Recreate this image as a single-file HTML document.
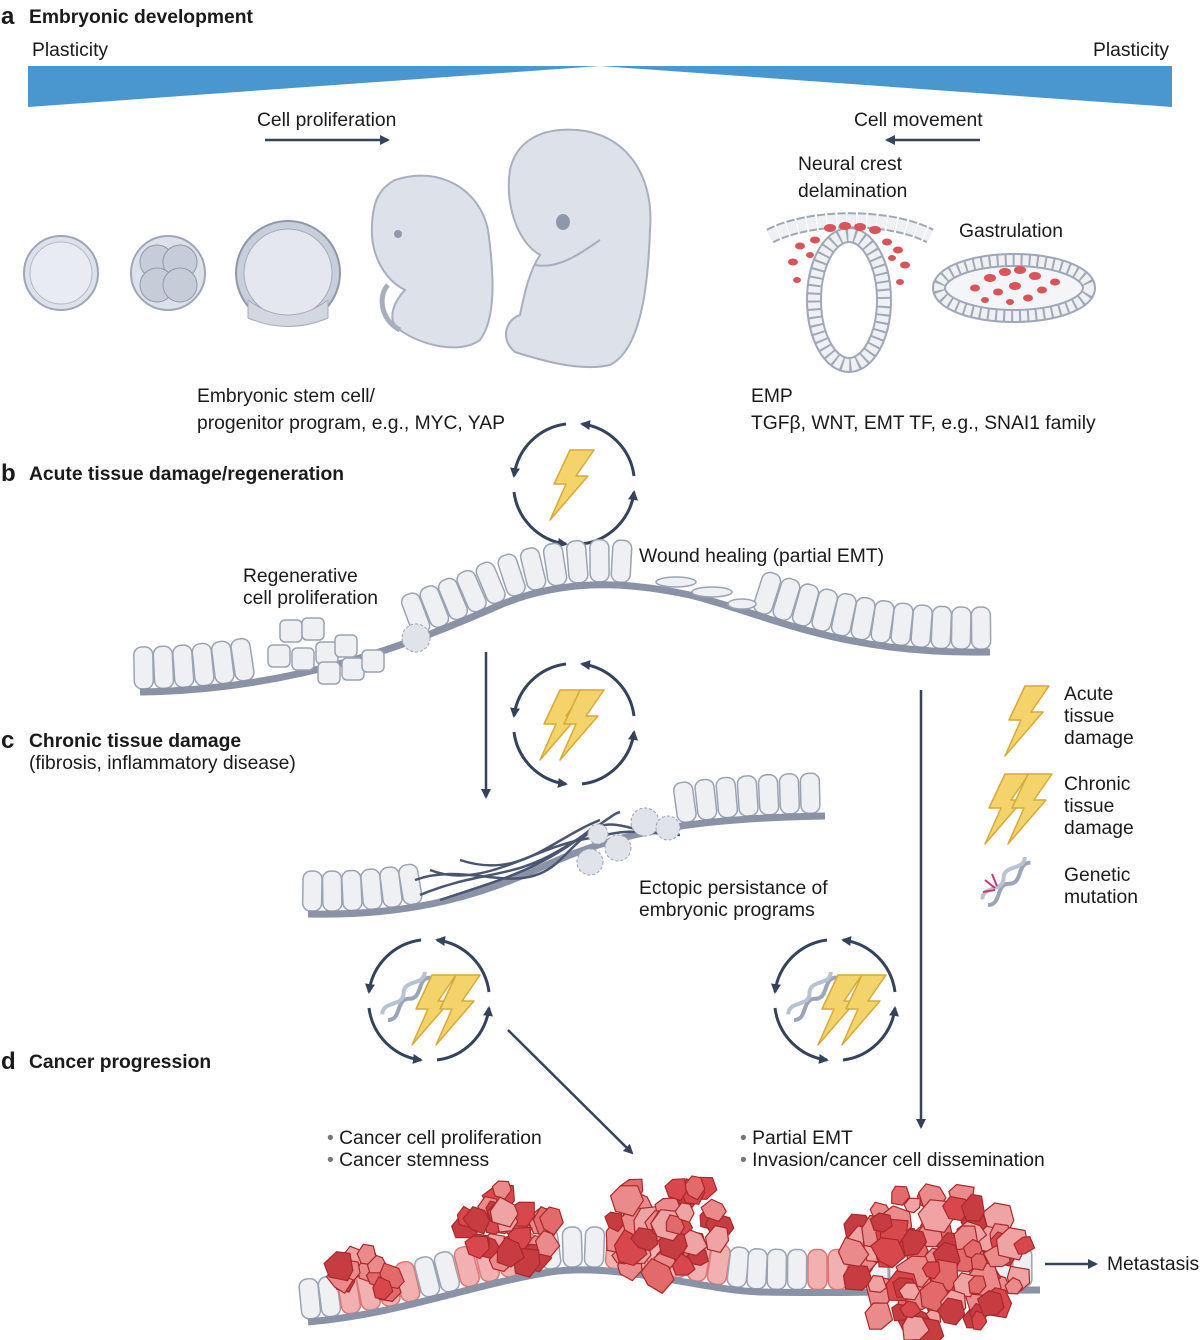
<!DOCTYPE html>
<html><head><meta charset="utf-8">
<style>
html,body{margin:0;padding:0;background:#fff;}
svg{display:block;font-family:"Liberation Sans",Arial,sans-serif;}
.t{font-size:19.3px;fill:#1a1a1a;}
.h{font-size:19.3px;font-weight:bold;fill:#1a1a1a;}
.L{font-size:24px;font-weight:bold;fill:#1a1a1a;}
</style></head>
<body>
<svg id="s" width="1200" height="1340" viewBox="0 0 1200 1340" xmlns="http://www.w3.org/2000/svg">
<defs>
<marker id="ah" markerWidth="10" markerHeight="10" refX="8" refY="5" orient="auto" markerUnits="userSpaceOnUse">
<path d="M0,0 L10,5 L0,10 z" fill="#34435a"/></marker>
<g id="bolt"><polygon points="20,0 44,0 26,26 38,26 0,70 16,34 4,34" fill="#f4d36a" stroke="#d6a93a" stroke-width="1.5" stroke-linejoin="round"/></g>
<g id="dna">
<path d="M0,0 C10,10 20,-10 30,0 S50,-10 60,0" fill="none" stroke="#9aa5b8" stroke-width="4"/>
<path d="M0,-8 C10,-18 20,2 30,-8 S50,2 60,-8" fill="none" stroke="#b9c2d2" stroke-width="4"/>
</g>
<g id="cyc">
<path d="M-8,-60 A60,60 0 0 0 -60,-8" fill="none" stroke="#34435a" stroke-width="3" marker-end="url(#ah)"/>
<path d="M-60,8 A60,60 0 0 0 -8,60" fill="none" stroke="#34435a" stroke-width="3" marker-end="url(#ah)"/>
<path d="M8,60 A60,60 0 0 0 60,8" fill="none" stroke="#34435a" stroke-width="3" marker-end="url(#ah)"/>
<path d="M60,-8 A60,60 0 0 0 8,-60" fill="none" stroke="#34435a" stroke-width="3" marker-end="url(#ah)"/>
</g>
</defs>

<!-- a -->
<text x="1" y="24" class="L">a</text><text x="29" y="23" class="h">Embryonic development</text>
<text x="32" y="56" class="t">Plasticity</text>
<text x="1093" y="56" class="t">Plasticity</text>
<polygon points="28,66 600,66 28,107" fill="#4a97d0"/>
<polygon points="600,66 1172,66 1172,107" fill="#4a97d0"/>
<text x="257" y="126" class="t">Cell proliferation</text>
<line x1="265" y1="140" x2="388" y2="140" stroke="#34435a" stroke-width="2.5" marker-end="url(#ah)"/>
<text x="854" y="126" class="t">Cell movement</text>
<line x1="980" y1="140" x2="887" y2="140" stroke="#34435a" stroke-width="2.5" marker-end="url(#ah)"/>

<circle cx="61" cy="273" r="37" fill="#dde1ea" stroke="#9ea7b8" stroke-width="2"/>
<circle cx="61" cy="273" r="31" fill="#e8ebf1" stroke="#b2bac8"/>
<circle cx="168" cy="273" r="37" fill="#dde1ea" stroke="#9ea7b8" stroke-width="2"/>
<circle cx="157" cy="262" r="17" fill="#c7cdd8" stroke="#8f98aa"/><circle cx="180" cy="262" r="17" fill="#c7cdd8" stroke="#8f98aa"/>
<circle cx="157" cy="285" r="17" fill="#c7cdd8" stroke="#8f98aa"/><circle cx="180" cy="285" r="17" fill="#c7cdd8" stroke="#8f98aa"/>
<circle cx="288" cy="273" r="52" fill="#c9cfda" stroke="#8f98aa" stroke-width="2"/>
<circle cx="288" cy="273" r="44" fill="#e4e8ee" stroke="#a3abbb"/>
<path d="M248,300 Q288,330 328,300 L328,318 Q288,335 248,318z" fill="#d2d7e0" stroke="#a3abbb"/>

<path d="M395,180 C440,165 480,190 488,230 C495,280 495,320 480,340 C460,355 420,345 400,330 C385,320 395,300 405,290 C385,280 370,255 372,225 C373,200 380,188 395,180z" fill="#dde1ea" stroke="#a7afbf" stroke-width="2"/>
<path d="M400,330 C380,320 378,295 388,285" fill="none" stroke="#a7afbf" stroke-width="5"/>
<circle cx="398" cy="234" r="4" fill="#8f98aa"/>
<path d="M560,130 C620,125 655,170 650,230 C648,290 640,350 610,365 C580,372 540,360 515,352 C500,340 505,320 520,315 C525,290 530,270 540,255 C515,240 505,200 510,170 C515,145 535,132 560,130z" fill="#dde1ea" stroke="#a7afbf" stroke-width="2"/>
<ellipse cx="563" cy="222" rx="7" ry="8" fill="#8f98aa"/>
<path d="M535,265 C560,270 585,250 600,240" fill="none" stroke="#a7afbf" stroke-width="2"/>

<text x="798" y="170" class="t">Neural crest</text>
<text x="798" y="197" class="t">delamination</text>
<text x="959" y="237" class="t">Gastrulation</text>
<path d="M770,236 C810,215 890,215 930,236" fill="none" stroke="#a0a8b8" stroke-width="16" stroke-dasharray="8 2"/>
<path d="M770,236 C810,215 890,215 930,236" fill="none" stroke="#eef0f4" stroke-width="12" stroke-dasharray="8 2"/>
<ellipse cx="849" cy="300" rx="35" ry="65" fill="none" stroke="#a0a8b8" stroke-width="16"/>
<ellipse cx="849" cy="300" rx="35" ry="65" fill="none" stroke="#eef0f4" stroke-width="12" stroke-dasharray="6 2"/>
<g fill="#d9545a">
<ellipse cx="830" cy="228" rx="6" ry="4"/><ellipse cx="845" cy="226" rx="6" ry="4"/><ellipse cx="860" cy="227" rx="6" ry="4"/><ellipse cx="875" cy="230" rx="6" ry="4"/>
<ellipse cx="815" cy="240" rx="5" ry="3.5"/><ellipse cx="887" cy="242" rx="5" ry="3.5"/><ellipse cx="800" cy="246" rx="5" ry="3.5"/><ellipse cx="898" cy="250" rx="5" ry="3.5"/>
<ellipse cx="793" cy="262" rx="5" ry="3.5"/><ellipse cx="905" cy="265" rx="5" ry="3.5"/><ellipse cx="797" cy="280" rx="4" ry="3"/><ellipse cx="900" cy="282" rx="4" ry="3"/>
<ellipse cx="810" cy="255" rx="4" ry="3"/><ellipse cx="892" cy="258" rx="4" ry="3"/>
</g>
<ellipse cx="1014" cy="288" rx="75" ry="28" fill="#f4f5f8" stroke="#a0a8b8" stroke-width="14"/>
<ellipse cx="1014" cy="288" rx="75" ry="28" fill="none" stroke="#eef0f4" stroke-width="10" stroke-dasharray="6 2"/>
<g fill="#d9545a">
<ellipse cx="990" cy="278" rx="6" ry="4"/><ellipse cx="1005" cy="272" rx="6" ry="4"/><ellipse cx="1020" cy="270" rx="6" ry="4"/><ellipse cx="1035" cy="276" rx="6" ry="4"/>
<ellipse cx="975" cy="288" rx="5" ry="3.5"/><ellipse cx="998" cy="292" rx="5" ry="3.5"/><ellipse cx="1015" cy="286" rx="6" ry="4"/><ellipse cx="1042" cy="290" rx="5" ry="3.5"/>
<ellipse cx="1055" cy="282" rx="5" ry="3.5"/><ellipse cx="1028" cy="298" rx="5" ry="3.5"/><ellipse cx="985" cy="300" rx="4" ry="3"/><ellipse cx="1010" cy="302" rx="4" ry="3"/>
</g>

<text x="197" y="402" class="t">Embryonic stem cell/</text>
<text x="197" y="429" class="t">progenitor program, e.g., MYC, YAP</text>
<text x="751" y="402" class="t">EMP</text>
<text x="751" y="429" class="t">TGFβ, WNT, EMT TF, e.g., SNAI1 family</text>

<!-- b -->
<text x="1" y="481" class="L">b</text><text x="29" y="480" class="h">Acute tissue damage/regeneration</text>
<use href="#cyc" x="574" y="484"/>
<use href="#bolt" x="550" y="450"/>
<text x="243" y="582" class="t">Regenerative</text>
<text x="243" y="604" class="t">cell proliferation</text>
<text x="639" y="562" class="t">Wound healing (partial EMT)</text>
<path id="cb" d="M140,692 C300,690 420,640 500,605 C560,580 620,580 690,595 C770,615 840,655 990,652" fill="none" stroke="#8a93a6" stroke-width="7"/>
<g fill="#eef0f4" stroke="#9aa3b3" stroke-width="1.5">
<rect x="280" y="620" width="22" height="22" rx="5"/><rect x="302" y="618" width="22" height="22" rx="5"/>
<rect x="268" y="645" width="22" height="22" rx="5"/><rect x="292" y="648" width="22" height="22" rx="5"/><rect x="316" y="642" width="22" height="22" rx="5"/><rect x="335" y="635" width="22" height="22" rx="5"/>
<rect x="318" y="662" width="22" height="22" rx="5"/><rect x="342" y="658" width="22" height="22" rx="5"/><rect x="362" y="650" width="22" height="22" rx="5"/>
<ellipse cx="676" cy="582" rx="20" ry="5"/><ellipse cx="712" cy="592" rx="20" ry="5"/><ellipse cx="742" cy="604" rx="14" ry="5"/>
</g>
<circle cx="416" cy="638" r="14" fill="#e0e3ea" stroke="#9aa3b3" stroke-dasharray="3 2"/>

<line x1="486" y1="652" x2="486" y2="797" stroke="#34435a" stroke-width="2.5" marker-end="url(#ah)"/>
<line x1="921" y1="690" x2="921" y2="1127" stroke="#34435a" stroke-width="2.5" marker-end="url(#ah)"/>
<use href="#cyc" x="574" y="724"/>
<use href="#bolt" x="540" y="690"/><use href="#bolt" x="560" y="690"/>

<!-- legend -->
<use href="#bolt" x="1005" y="686"/>
<text x="1064" y="700" class="t">Acute</text><text x="1064" y="722" class="t">tissue</text><text x="1064" y="744" class="t">damage</text>
<use href="#bolt" x="985" y="774"/><use href="#bolt" x="1008" y="774"/>
<text x="1064" y="790" class="t">Chronic</text><text x="1064" y="812" class="t">tissue</text><text x="1064" y="834" class="t">damage</text>
<use href="#dna" transform="translate(988,905) rotate(-45)"/>
<path d="M985,880 l10,8 M992,874 l5,12 M983,892 l12,-2" stroke="#c83a6a" stroke-width="2"/>
<text x="1064" y="881" class="t">Genetic</text><text x="1064" y="903" class="t">mutation</text>

<!-- c -->
<text x="1" y="748" class="L">c</text><text x="29" y="747" class="h">Chronic tissue damage</text>
<text x="29" y="769" class="t">(fibrosis, inflammatory disease)</text>
<path id="cc" d="M308,914 C400,916 470,900 540,868 C620,830 700,818 825,816" fill="none" stroke="#8a93a6" stroke-width="7"/>
<g fill="none" stroke="#4a5670" stroke-width="2.5">
<path d="M415,880 C470,860 520,900 560,860 S 600,820 640,830"/>
<path d="M420,895 C480,870 510,880 560,850 S 610,815 620,812"/>
<path d="M430,870 C480,890 530,850 580,840 S 620,830 680,835"/>
<path d="M440,900 C500,880 540,870 590,830"/>
<path d="M460,860 C520,880 550,840 600,820"/>
</g>
<g fill="#e0e3ea" stroke="#9aa3b3" stroke-dasharray="3 2">
<circle cx="590" cy="862" r="13"/><circle cx="618" cy="848" r="13"/><circle cx="645" cy="822" r="14"/><circle cx="668" cy="828" r="12"/><circle cx="598" cy="834" r="10"/>
</g>
<text x="639" y="894" class="t">Ectopic persistance of</text>
<text x="639" y="916" class="t">embryonic programs</text>

<use href="#cyc" x="429" y="1000"/>
<use href="#dna" transform="translate(388,1020) rotate(-45)"/>
<use href="#bolt" x="412" y="975"/><use href="#bolt" x="436" y="975"/>
<use href="#cyc" x="835" y="1000"/>
<use href="#dna" transform="translate(794,1020) rotate(-45)"/>
<use href="#bolt" x="818" y="975"/><use href="#bolt" x="842" y="975"/>
<line x1="508" y1="1030" x2="632" y2="1153" stroke="#34435a" stroke-width="2.5" marker-end="url(#ah)"/>

<!-- d -->
<text x="1" y="1069" class="L">d</text><text x="29" y="1068" class="h">Cancer progression</text>
<text x="327" y="1144" class="t"><tspan fill="#777">•</tspan> Cancer cell proliferation</text>
<text x="327" y="1166" class="t"><tspan fill="#777">•</tspan> Cancer stemness</text>
<text x="740" y="1144" class="t"><tspan fill="#777">•</tspan> Partial EMT</text>
<text x="740" y="1166" class="t"><tspan fill="#777">•</tspan> Invasion/cancer cell dissemination</text>
<path id="cd" d="M308,1322 C400,1314 470,1285 550,1272 C620,1262 700,1290 760,1292 C850,1294 950,1290 1040,1290" fill="none" stroke="#8a93a6" stroke-width="7"/>
<g id="tum"></g>
<line x1="1045" y1="1264" x2="1096" y2="1264" stroke="#34435a" stroke-width="2.5" marker-end="url(#ah)"/>
<text x="1107" y="1270" class="t">Metastasis</text>
</svg>
<script>
(function(){
var NS="http://www.w3.org/2000/svg",s=document.getElementById("s");
function cells(id,w,h,ranges,red){
 var p=document.getElementById(id),L=p.getTotalLength(),g=document.createElementNS(NS,"g");
 p.parentNode.insertBefore(g,p);
 for(var l=4;l<L-4;l+=w+1.5){
  var a=p.getPointAtLength(l),b=p.getPointAtLength(l+1),tx=b.x-a.x,ty=b.y-a.y;
  var ok=false;for(var i=0;i<ranges.length;i++)if(a.x>=ranges[i][0]&&a.x<=ranges[i][1])ok=true;
  if(!ok)continue;
  var ang=Math.atan2(ty,tx)*180/Math.PI,cx=a.x+ty*(h/2+3),cy=a.y-tx*(h/2+3);
  var r=document.createElementNS(NS,"rect");
  r.setAttribute("x",-w/2);r.setAttribute("y",-h/2);r.setAttribute("width",w);r.setAttribute("height",h);r.setAttribute("rx",8);
  var isRed=red&&red.some(function(q){return a.x>=q[0]&&a.x<=q[1];});
  r.setAttribute("fill",isRed?"#f2b0b0":"#eef0f4");r.setAttribute("stroke",isRed?"#d77":"#9aa3b3");r.setAttribute("stroke-width","1.5");
  r.setAttribute("transform","translate("+cx+","+cy+") rotate("+ang+")");
  g.appendChild(r);
 }
}
cells("cb",19,42,[[140,250],[420,640],[750,990]]);
cells("cc",19,40,[[308,415],[670,825]]);
cells("cd",19,40,[[308,1040]],[[340,420],[460,540],[600,720],[800,860]]);
var t=document.getElementById("tum");
function cl(cx,cy,rx,ry,n,seed){
 var x=seed;function rnd(){x=(x*9301+49297)%233280;return x/233280;}
 var cols=["#d8474b","#e36a6a","#f0a3a3","#c63c40","#ea8a8a"];
 for(var i=0;i<n;i++){
  var ang=rnd()*6.283,rr=Math.sqrt(rnd());
  var px=cx+Math.cos(ang)*rx*rr,py=cy+Math.sin(ang)*ry*rr,sz=9+rnd()*9;
  var pts=[];for(var k=0;k<6;k++){var a2=k*1.047+rnd()*0.4,d=sz*(0.8+rnd()*0.35);pts.push((px+Math.cos(a2)*d).toFixed(1)+","+(py+Math.sin(a2)*d).toFixed(1));}
  var pg=document.createElementNS(NS,"polygon");pg.setAttribute("points",pts.join(" "));
  pg.setAttribute("fill",cols[Math.floor(rnd()*cols.length)]);pg.setAttribute("stroke","#a8282c");pg.setAttribute("stroke-width","1.2");
  t.appendChild(pg);
 }
}
cl(372,1272,34,22,14,7);
cl(505,1228,48,40,30,13);
cl(668,1228,58,52,42,29);
cl(935,1262,92,72,90,51);
})();
</script>
</body></html>
